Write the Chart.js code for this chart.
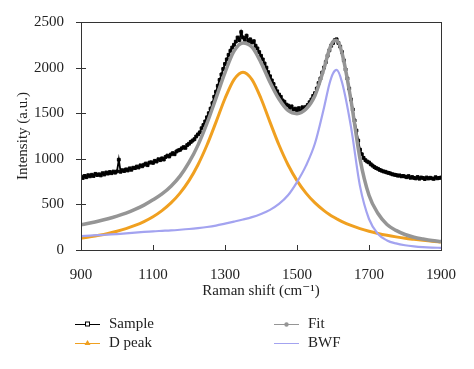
<!DOCTYPE html>
<html>
<head>
<meta charset="utf-8">
<script src="https://cdn.jsdelivr.net/npm/chart.js@4.4.1/dist/chart.umd.min.js"></script>
<style>
  html, body { margin: 0; padding: 0; background: #fff; }
  #wrap { width: 474px; height: 369px; }
</style>
</head>
<body>
<div id="wrap"><canvas id="raman" width="474" height="369"></canvas></div>
<script>
// measured spectrum, sampled every 5 cm-1 from 900 to 1900
const SAMPLE_START = 900;
const SAMPLE_STEP = 5;
const sampleIntensity = [
    805, 790, 812, 798, 820,  808, 825, 812, 835, 822,
    830, 818, 842, 828, 850,  838, 855, 842, 860, 848,
    862, 990, 858, 875, 866,  884, 872, 895, 880, 902,
    898, 915, 905, 928, 918,  935, 948, 930, 958, 962,
    955, 978, 970, 995, 985,  1005, 992, 1020, 1035, 1025,
    1048, 1062, 1050, 1080, 1092,  1098, 1115, 1128, 1120, 1150,
    1165, 1185, 1200, 1215, 1245,  1268, 1290, 1335, 1370, 1410,
    1455, 1500, 1550, 1610, 1680,  1735, 1800, 1865, 1925, 1985,
    2040, 2090, 2140, 2185, 2220,  2250, 2285, 2330, 2300, 2390,
    2330, 2305, 2350, 2290, 2310,  2275, 2290, 2240, 2210, 2170,
    2130, 2090, 2045, 2000, 1950,  1905, 1860, 1820, 1775, 1740,
    1705, 1680, 1640, 1625, 1595,  1585, 1560, 1575, 1540, 1550,
    1530, 1555, 1520, 1565, 1545,  1570, 1590, 1620, 1650, 1690,
    1720, 1770, 1830, 1880, 1945,  2000, 2060, 2130, 2190, 2240,
    2270, 2300, 2310, 2270, 2230,  2170, 2080, 1980, 1880, 1770,
    1650, 1540, 1420, 1310, 1200,  1100, 1050, 1010, 985, 970,
    960, 940, 925, 910, 898,  890, 878, 870, 862, 858,
    850, 845, 838, 830, 826,  822, 815, 818, 808, 812,
    805, 798, 810, 792, 800,  790, 785, 800, 782, 795,
    790, 778, 795, 784, 792,  785, 780, 798, 786, 790,
    795
];

// fitted components
const curveShift = [900, 925, 950, 975, 1000, 1025, 1050, 1075, 1100, 1125, 1150, 1175, 1200, 1225,
    1250, 1275, 1300, 1325, 1350, 1375, 1400, 1425, 1450, 1475, 1500, 1525, 1550, 1575, 1590, 1600, 1610,
    1625, 1650, 1675, 1700, 1725, 1750, 1775, 1800, 1825, 1850, 1875, 1900];
const dPeak = [129, 144, 161, 181, 205, 234, 269, 312, 365, 432, 516, 624, 761, 935,
    1151, 1402, 1661, 1869, 1950, 1869, 1661, 1402, 1151, 935, 761, 624, 516, 432, 390, 365, 343,
    312, 269, 234, 205, 181, 161, 144, 129, 117, 106, 96, 88];
const bwfPeak = [153, 158, 163, 169, 175, 182, 190, 198, 205, 210, 215, 222, 230, 240,
    252, 268, 289, 311, 334, 360, 395, 440, 505, 600, 745, 925, 1170, 1560, 1820, 1935, 1974,
    1840, 1350, 700, 340, 175, 105, 72, 52, 40, 32, 27, 24];
const fitTotal = [276, 296, 318, 343, 372, 405, 445, 492, 550, 615, 700, 810, 960, 1150,
    1390, 1665, 1945, 2180, 2270, 2225, 2055, 1840, 1655, 1530, 1495, 1545, 1695, 1990, 2200, 2285, 2300,
    2160, 1640, 1000, 600, 400, 280, 215, 170, 140, 120, 103, 92];

const xTicks = [900, 1100, 1300, 1500, 1700, 1900];
const yTicks = [0, 500, 1000, 1500, 2000, 2500];

const FONT = '"Liberation Serif", "DejaVu Serif", serif';
const COLORS = { sample: '#000000', d: '#f0a020', fit: '#959595', bwf: '#a3a3f0', axis: '#333333' };

const samplePoints = sampleIntensity.map((v, i) => ({ x: SAMPLE_START + i * SAMPLE_STEP, y: v }));
const toPoints = arr => arr.map((v, i) => ({ x: curveShift[i], y: v }));

// legend entries, two columns under the axis
const legendItems = [
    { text: 'Sample', color: COLORS.sample, marker: 'rect', col: 0, row: 0 },
    { text: 'D peak', color: COLORS.d, marker: 'triangle', col: 0, row: 1 },
    { text: 'Fit', color: COLORS.fit, marker: 'circle', col: 1, row: 0 },
    { text: 'BWF', color: COLORS.bwf, marker: null, col: 1, row: 1 }
];

const framePlugin = {
    id: 'frame',
    afterDraw(chart) {
        const { ctx, chartArea: a, scales } = chart;
        ctx.save();
        ctx.strokeStyle = COLORS.axis;
        ctx.lineWidth = 1;
        ctx.strokeRect(Math.round(a.left) + 0.5, Math.round(a.top) + 0.5,
            Math.round(a.right - a.left), Math.round(a.bottom - a.top));
        ctx.beginPath();
        yTicks.forEach(v => {
            const y = Math.round(scales.y.getPixelForValue(v)) + 0.5;
            ctx.moveTo(a.left - 5, y);
            ctx.lineTo(a.left + 5, y);
        });
        xTicks.forEach(v => {
            const x = Math.round(scales.x.getPixelForValue(v)) + 0.5;
            ctx.moveTo(x, a.bottom);
            ctx.lineTo(x, a.bottom - 5);
        });
        ctx.stroke();

        // legend
        ctx.font = '15px ' + FONT;
        ctx.textBaseline = 'middle';
        legendItems.forEach(it => {
            const x0 = it.col === 0 ? 75 : 274;
            const y = 324 + it.row * 19;
            ctx.strokeStyle = it.color;
            ctx.lineWidth = 1;
            ctx.beginPath();
            ctx.moveTo(x0, y + 0.5);
            ctx.lineTo(x0 + 25, y + 0.5);
            ctx.stroke();
            const cx = x0 + 12.5;
            if (it.marker === 'rect') {
                ctx.fillStyle = '#fff';
                ctx.fillRect(cx - 2, y - 2, 4, 4);
                ctx.strokeRect(cx - 2, y - 2, 4, 4);
            } else if (it.marker === 'triangle') {
                ctx.fillStyle = it.color;
                ctx.beginPath();
                ctx.moveTo(cx, y - 3);
                ctx.lineTo(cx + 3, y + 2);
                ctx.lineTo(cx - 3, y + 2);
                ctx.closePath();
                ctx.fill();
            } else if (it.marker === 'circle') {
                ctx.fillStyle = it.color;
                ctx.beginPath();
                ctx.arc(cx, y + 0.5, 2.2, 0, Math.PI * 2);
                ctx.fill();
            }
            ctx.fillStyle = '#222';
            ctx.fillText(it.text, x0 + 34, y);
        });
        ctx.restore();
    }
};

new Chart(document.getElementById('raman'), {
    type: 'line',
    data: {
        datasets: [
            {
                label: 'Fit', data: toPoints(fitTotal), order: 1,
                borderColor: COLORS.fit, borderWidth: 3.5, pointRadius: 0,
                cubicInterpolationMode: 'monotone', fill: false
            },
            {
                label: 'BWF', data: toPoints(bwfPeak), order: 2,
                borderColor: COLORS.bwf, borderWidth: 2.2, pointRadius: 0,
                cubicInterpolationMode: 'monotone', fill: false
            },
            {
                label: 'D peak', data: toPoints(dPeak), order: 3,
                borderColor: COLORS.d, borderWidth: 3, pointRadius: 0,
                cubicInterpolationMode: 'monotone', fill: false
            },
            {
                label: 'Sample', data: samplePoints, order: 4,
                borderColor: COLORS.sample, borderWidth: 1.8,
                pointStyle: 'rect', pointRadius: 2, pointBackgroundColor: '#000',
                pointBorderColor: '#000', pointBorderWidth: 1, tension: 0, fill: false
            }
        ]
    },
    options: {
        responsive: false,
        animation: false,
        events: [],
        layout: { padding: { left: 0, right: 33, top: 22, bottom: 69 } },
        plugins: { legend: { display: false }, tooltip: { enabled: false } },
        scales: {
            x: {
                type: 'linear', min: 900, max: 1900,
                afterBuildTicks: s => { s.ticks = xTicks.map(v => ({ value: v })); },
                afterFit: s => { s.height = 50; },
                grid: { display: false }, border: { display: false },
                ticks: { color: '#222', font: { family: FONT, size: 15 }, padding: 8, maxRotation: 0,
                    callback: v => String(v) },
                title: {
                    display: true, text: 'Raman shift (cm\u207B\u00B9)', color: '#222',
                    font: { family: FONT, size: 15 }, padding: { top: 0, bottom: 0 }
                }
            },
            y: {
                type: 'linear', min: 0, max: 2500,
                afterBuildTicks: s => { s.ticks = yTicks.map(v => ({ value: v })); },
                afterFit: s => { s.width = 81; },
                grid: { display: false }, border: { display: false },
                ticks: { color: '#222', font: { family: FONT, size: 15 }, padding: 9,
                    callback: v => String(v) },
                title: {
                    display: true, text: 'Intensity (a.u.)', color: '#222',
                    font: { family: FONT, size: 15 }, padding: { top: 14, bottom: 0 }
                }
            }
        }
    },
    plugins: [framePlugin]
});
</script>
</body>
</html>
